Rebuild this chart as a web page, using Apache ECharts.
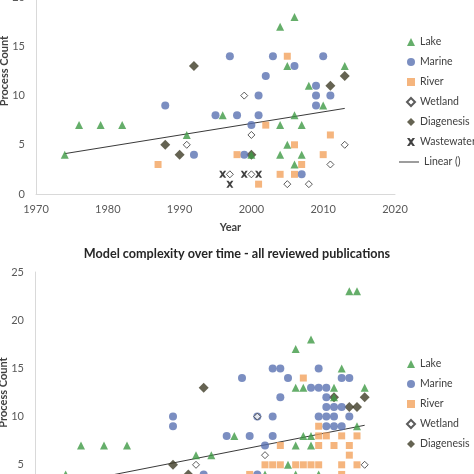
<!DOCTYPE html>
<html>
<head>
<meta charset="utf-8">
<script src="https://cdn.jsdelivr.net/npm/echarts@6/dist/echarts.min.js"></script>
<style>
  html, body { margin: 0; padding: 0; background: #fff; }
  #chart { width: 474px; height: 474px; }
</style>
</head>
<body>
<div id="chart"></div>
<script>
// top chart: [year, process count]
const topLake = [[1974,4],[1976,7],[1979,7],[1982,7],[1991,6],[1996,8],[2000,4],[2004,17],[2004,7],[2004,4],[2005,13],[2005,5],[2006,18],[2006,8],[2006,3],[2007,7],[2007,4],[2008,11],[2010,9],[2013,13]];
const topMarine = [[1988,9],[1992,4],[1995,8],[1997,14],[1998,8],[1999,4],[2000,7],[2001,10],[2001,8],[2002,12],[2003,14],[2006,13],[2007,2],[2009,11],[2009,10],[2009,9],[2010,14],[2011,10]];
const topRiver = [[1987,3],[1998,4],[2001,1],[2002,7],[2004,2],[2005,14],[2006,5],[2006,2],[2007,3],[2010,4],[2011,6]];
const topWetland = [[1991,5],[1997,2],[1999,10],[2000,6],[2000,2],[2005,1],[2008,1],[2011,3],[2013,5]];
const topDiagenesis = [[1988,5],[1990,4],[1992,13],[2000,4],[2011,11],[2013,12]];
const topWastewater = [[1996,2],[1997,1],[1999,2],[2001,2]];
const topLinear = [[1974,4.1],[2013,8.7]];

// bottom chart: all reviewed publications
const allLake = [[2011,23],[2012,23],[2006,18],[2004,17],[2010,15],[2004,13],[2005,13],[2009,13],[2013,13],[2009,12],[2012,9],[1996,8],[2005,8],[2006,8],[1976,7],[1979,7],[1982,7],[2004,7],[2006,7],[1991,6],[1993,6],[2003,5],[1974,4],[2000,4],[2004,4],[2007,4],[2006,3]];
const allMarine = [[2001,15],[2002,15],[2007,15],[1997,14],[2003,14],[2010,14],[2011,14],[2006,13],[2007,13],[2008,13],[2002,12],[2008,12],[2008,11],[2009,11],[2010,11],[1988,10],[1999,10],[2001,10],[2007,10],[2008,10],[2009,10],[2011,10],[1988,9],[2008,9],[2009,9],[2010,9],[1995,8],[1998,8],[2001,8],[2000,7],[1992,4],[1999,4],[2007,2]];
const allRiver = [[2005,14],[2007,9],[2007,8],[2008,8],[2010,8],[2012,8],[2002,7],[2007,7],[2009,7],[2011,7],[2011,6],[2000,5],[2001,5],[2002,5],[2004,5],[2005,5],[2006,5],[2007,5],[2010,5],[2012,5],[1998,4],[2010,4],[1987,3],[2007,3],[2004,2],[2006,2],[2001,1]];
const allWetland = [[1999,10],[2000,6],[1991,5],[2013,5],[2011,3],[1997,2],[2000,2],[2005,1],[2008,1]];
const allDiagenesis = [[1992,13],[2009,12],[2013,12],[2011,11],[2012,11],[1988,5],[1990,4]];
const allWastewater = [[1996,2],[1997,1],[1999,2],[2001,2]];
const allLinear = [[1974,3.0],[2013,9.1]];

const pointNames = ['Lake', 'Marine', 'River', 'Wetland', 'Diagenesis', 'Wastewater'];
const xMark = 'path://M0,0 L3,0 L5,2.6 L7,0 L10,0 L6.6,5 L10,10 L7,10 L5,7.4 L3,10 L0,10 L3.4,5 Z';
const font = 'Lato, "Open Sans", sans-serif';

const styles = {
  'Lake': { symbol: 'triangle', symbolSize: 8, itemStyle: { color: '#3e9a45' }, z: 4 },
  'Marine': { symbol: 'circle', symbolSize: 8, itemStyle: { color: '#5a72b2' }, z: 3 },
  'River': { symbol: 'rect', symbolSize: 7, itemStyle: { color: '#f2a25e' }, z: 3 },
  'Wetland': { symbol: 'diamond', symbolSize: 7, itemStyle: { color: '#fff', borderColor: '#333', borderWidth: 1 }, z: 3 },
  'Diagenesis': { symbol: 'diamond', symbolSize: 10, itemStyle: { color: '#3e3c27' }, z: 2 },
  'Wastewater': { symbol: xMark, symbolSize: 7, itemStyle: { color: '#111' }, z: 3 }
};

function scatterSeries(name, data, idx) {
  const s = styles[name];
  return {
    name: name, type: 'scatter', xAxisIndex: idx, yAxisIndex: idx,
    symbol: s.symbol, symbolSize: s.symbolSize, itemStyle: s.itemStyle, z: s.z,
    data: data, silent: true
  };
}

function lineSeries(data, idx) {
  return {
    name: 'Linear ()', type: 'line', xAxisIndex: idx, yAxisIndex: idx,
    symbol: 'none', data: data, z: 1,
    lineStyle: { color: '#3a3a3a', width: 1 }, itemStyle: { color: '#3a3a3a' }
  };
}

function xAxisFor(idx, max) {
  return {
    type: 'value', gridIndex: idx, min: 1970, max: max, interval: 10,
    name: idx === 0 ? 'Year' : '', nameLocation: 'middle', nameGap: 28,
    nameMoveOverlap: false,
    nameTextStyle: { fontFamily: font, fontWeight: 'bold', fontSize: 11, color: '#404040', padding: [0, 0, 0, 30] },
    axisLine: { lineStyle: { color: '#d9d9d9' } },
    axisTick: { show: false }, splitLine: { show: false },
    axisLabel: { color: '#595959', fontFamily: font, fontSize: 11, margin: 10, formatter: v => String(v) }
  };
}

function yAxisFor(idx) {
  return {
    type: 'value', gridIndex: idx, min: 0, max: 25, interval: 5,
    name: 'Process Count', nameLocation: 'middle', nameGap: 26,
    nameMoveOverlap: false,
    nameTextStyle: { fontFamily: font, fontWeight: 'bold', fontSize: 11, color: '#404040' },
    axisLine: { show: true, lineStyle: { color: '#d9d9d9' } },
    axisTick: { show: false }, splitLine: { show: false },
    axisLabel: { color: '#595959', fontFamily: font, fontSize: 11, margin: 11 }
  };
}

const legendText = { fontFamily: font, fontSize: 10.5, color: '#404040', lineHeight: 14 };

function pointLegend(top) {
  return {
    orient: 'vertical', left: 401, top: top, itemWidth: 8, itemHeight: 8, itemGap: 6,
    selectedMode: false, data: pointNames,
    textStyle: legendText
  };
}

function lineLegend(top) {
  return {
    orient: 'vertical', left: 394, top: top, itemWidth: 20, itemHeight: 1,
    selectedMode: false, data: [{ name: 'Linear ()', icon: 'rect' }],
    textStyle: legendText
  };
}

const chart = echarts.init(document.getElementById('chart'), null, { renderer: 'canvas' });

const series = [
  scatterSeries('Lake', topLake, 0),
  scatterSeries('Marine', topMarine, 0),
  scatterSeries('River', topRiver, 0),
  scatterSeries('Wetland', topWetland, 0),
  scatterSeries('Diagenesis', topDiagenesis, 0),
  scatterSeries('Wastewater', topWastewater, 0),
  lineSeries(topLinear, 0),
  scatterSeries('Lake', allLake, 1),
  scatterSeries('Marine', allMarine, 1),
  scatterSeries('River', allRiver, 1),
  scatterSeries('Wetland', allWetland, 1),
  scatterSeries('Diagenesis', allDiagenesis, 1),
  scatterSeries('Wastewater', allWastewater, 1),
  lineSeries(allLinear, 1)
];

chart.setOption({
  animation: false,
  backgroundColor: '#fff',
  title: {
    text: 'Model complexity over time - all reviewed publications',
    left: 'center', top: 242,
    textStyle: { fontFamily: font, fontWeight: 'bold', fontSize: 12.6, color: '#262626' }
  },
  grid: [
    { left: 36, top: -52, width: 359, height: 246, outerBoundsMode: 'none' },
    { left: 35, top: 272, width: 345, height: 241, outerBoundsMode: 'none' }
  ],
  xAxis: [xAxisFor(0, 2020), xAxisFor(1, 2015)],
  yAxis: [yAxisFor(0), yAxisFor(1)],
  legend: [pointLegend(30), lineLegend(150), pointLegend(352), lineLegend(472)],
  series: series
});
</script>
</body>
</html>
